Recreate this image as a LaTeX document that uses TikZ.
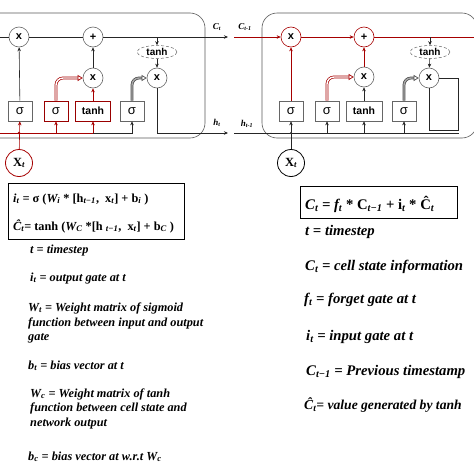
\documentclass[tikz,border=0pt]{standalone}
\usepackage{fontspec}
\setmainfont{Liberation Serif}
\setsansfont{Liberation Sans}
\usetikzlibrary{arrows.meta,shapes.geometric,calc}
\newcommand\up[1]{{\upshape #1}}
\begin{document}
\begin{tikzpicture}[x=1pt,y=-1pt,
  ln/.style={line width=0.6pt, draw=black!85},
  arr/.style={ln, -{Stealth[length=4pt,width=3.5pt]}},
  redc/.style={draw=red!65!black},
  op/.style={circle, draw=black!60, line width=0.6pt, fill=white, minimum size=20pt, inner sep=0pt, font=\sffamily\bfseries\fontsize{11}{11}\selectfont},
  opred/.style={op, draw=red!65!black},
  gate/.style={rectangle, draw=black!60, line width=0.6pt, fill=white, minimum width=24pt, minimum height=20pt, inner sep=0pt, font=\sffamily\fontsize{13}{13}\selectfont},
  gatered/.style={gate, draw=red!60!black},
  thgate/.style={font=\sffamily\bfseries\fontsize{10.5}{10.5}\selectfont},
  thell/.style={ellipse, draw=black!60, densely dashed, line width=0.5pt, fill=white, minimum width=40pt, minimum height=13pt, inner sep=0pt, font=\sffamily\bfseries\fontsize{10}{10}\selectfont},
  xin/.style={circle, draw=black, line width=0.8pt, fill=white, minimum size=27pt, inner sep=0pt, font=\bfseries\fontsize{12.5}{12.5}\selectfont},
  cellbox/.style={draw=black!65, line width=0.6pt, rounded corners=15pt},
  lbl/.style={font=\bfseries\itshape\fontsize{9}{9}\selectfont, inner sep=0pt},
  dblred/.style={line width=0.7pt, draw=red!65!black, double=white, double distance=1.4pt, -{Triangle[open,length=5pt,width=6pt]}, rounded corners=7pt},
  dblgray/.style={line width=0.7pt, draw=black!70, double=black!35, double distance=1.4pt, -{Triangle[open,length=5pt,width=6pt]}, rounded corners=7pt},
  txtL/.style={anchor=base west, inner sep=0pt, font=\bfseries\itshape\fontsize{12.3}{14}\selectfont},
  txtR/.style={anchor=base west, inner sep=0pt, font=\bfseries\itshape\fontsize{14.7}{16}\selectfont},
]
\useasboundingbox (0,0) rectangle (474,474);

% cell boxes
\draw[cellbox] (-20,13) rectangle (205,138);
\draw[cellbox] (262,13) rectangle (477,138);

% ---------- left cell ----------
\node[op] (fx1) at (19,37) {x};
\node[op] (add1) at (93,37) {+};
\node[op] (mx1) at (93,78) {x};
\node[op] (ox1) at (157,78) {x};
\node[thell] (th1) at (157,52) {tanh};
\node[gate] (g1a) at (20,111) {σ};
\node[gatered] (g1b) at (56,111) {σ};
\node[gatered, minimum width=35pt, thgate] (g1c) at (93,111) {tanh};
\node[gate] (g1d) at (132,111) {σ};
\node[xin, draw=red!65!black] (xin1) at (19,163) {X\textsubscript{\itshape t}};
\coordinate (c1in) at (0,37);
\coordinate (c1out) at (228,37);
\coordinate (tap1) at (157,37);
\coordinate (h1in) at (0,133);
\coordinate (h1out) at (228,133);
\coordinate (h1m) at (93,133);
\coordinate (h1b) at (56,133);
\coordinate (j1) at (19,133);
\node[lbl] (lc1) at (217,27) {C\textsubscript{t}};
\node[lbl] (lh1) at (217,123) {h\textsubscript{t}};

\draw[ln] (c1in) -- (fx1);
\draw[ln] (fx1) -- (add1);
\draw[arr] (add1) -- (c1out);
\draw[arr] (g1a) -- (fx1);
\draw[arr] (tap1) -- (th1);
\draw[arr] (th1) -- (ox1);
\draw[arr] (mx1) -- (add1);
\draw[arr, redc] (g1c) -- (mx1);
\draw[dblred] (g1b.north) -- (g1b.north |- mx1) -- (mx1.west);
\draw[dblgray] (g1d.north) -- (g1d.north |- ox1) -- (ox1.west);
\draw[arr] (ox1) |- (h1out);
\draw[ln, redc] (h1in) -- (h1m);
\draw[arr] (h1m) -| (g1d);
\draw[arr, redc] (h1b) -- (g1b);
\draw[arr, redc] (h1m) -- (g1c);
\draw[arr, redc] (xin1) -- (g1a);
\fill[red!65!black] (j1) circle (1.4pt);

% ---------- right cell ----------
\node[opred] (fx2) at (291,37) {x};
\node[opred] (add2) at (364,37) {+};
\node[op] (mx2) at (364,77) {x};
\node[op] (ox2) at (429,78) {x};
\node[thell] (th2) at (430,52) {tanh};
\node[gate] (g2a) at (291,111) {σ};
\node[gate] (g2b) at (327,111) {σ};
\node[gate, minimum width=36pt, thgate] (g2c) at (364,111) {tanh};
\node[gate] (g2d) at (404,111) {σ};
\node[xin] (xin2) at (291,163) {X\textsubscript{\itshape t}};
\coordinate (c2in) at (234,37);
\coordinate (c2out) at (474,37);
\coordinate (tap2) at (430,37);
\coordinate (h2in) at (234,133);
\coordinate (h2out) at (459,133);
\coordinate (j2) at (291,133);
\coordinate (l1) at (458,78);
\coordinate (l2) at (458,130);
\coordinate (l3) at (429,130);
\node[lbl] (lc2) at (245,27) {C\textsubscript{t-1}};
\node[lbl] (lh2) at (247,124) {h\textsubscript{t-1}};

\draw[arr, redc] (c2in) -- (fx2);
\draw[arr, redc] (fx2) -- (add2);
\draw[ln, redc] (add2) -- (c2out);
\draw[arr, redc] (g2a) -- (fx2);
\draw[arr, redc] (mx2) -- (add2);
\draw[arr] (g2c) -- (mx2);
\draw[arr] (tap2) -- (th2);
\draw[arr] (th2) -- (ox2);
\draw[dblred] (g2b.north) -- (g2b.north |- mx2) -- (mx2.west);
\draw[dblgray] (g2d.north) -- (g2d.north |- ox2) -- (ox2.west);
\draw[ln] (ox2.east) -- (l1) -- (l2) -- (l3) -- (ox2.south);
\draw[ln] (h2in) -- (h2out);
\draw[arr] (g2b |- h2in) -- (g2b);
\draw[arr] (g2c |- h2in) -- (g2c);
\draw[arr] (g2d |- h2in) -- (g2d);
\draw[arr] (xin2) -- (g2a);
\fill[black!80] (j2) circle (1.2pt);

% ---------- left formulas and text ----------
\node[draw, line width=0.8pt, minimum width=176pt, minimum height=56pt, anchor=north west, inner sep=0pt] (fbox1) at (8,183) {};
\node[txtL] (f1) at (13,202) {i\textsubscript{t} = \up{σ (}W\textsubscript{i} \up{* [h}\textsubscript{t−1}\up{, \ x}\textsubscript{t}\up{] + b}\textsubscript{i} \up{)}};
\node[txtL] (f2) at (13,230) {Ĉ\textsubscript{t}\up{= tanh (}W\textsubscript{C} \up{*[h }\textsubscript{t−1}\up{, \ x}\textsubscript{t}\up{] + b}\textsubscript{C} \up{)}};

\node[txtL] (t1) at (30,253) {t = timestep};
\node[txtL] (t2) at (30,281) {i\textsubscript{t} = output gate at t};
\node[txtL] (t3) at (28,311) {W\textsubscript{t} = Weight matrix of sigmoid};
\node[txtL] (t3b) at (28,326) {function between input and output};
\node[txtL] (t3c) at (28,340) {gate};
\node[txtL] (t4) at (28,369) {b\textsubscript{t} = bias vector at t};
\node[txtL] (t5) at (30,397) {W\textsubscript{c} = Weight matrix of tanh};
\node[txtL] (t5b) at (30,411) {function between cell state and};
\node[txtL] (t5c) at (30,426) {network output};
\node[txtL] (t6) at (28,460) {b\textsubscript{c} = bias vector at w.r.t W\textsubscript{c}};

% ---------- right formula and text ----------
\node[draw, line width=0.8pt, minimum width=157pt, minimum height=32pt, anchor=north west, inner sep=0pt] (fbox2) at (300,186) {};
\node[txtR] (f3) at (305,209) {C\textsubscript{t} = f\textsubscript{t} \up{* C}\textsubscript{t−1} \up{+ i}\textsubscript{t} \up{* Ĉ}\textsubscript{t}};
\node[txtR] (r1) at (305,235) {t = timestep};
\node[txtR] (r2) at (305,270) {C\textsubscript{t} = cell state information};
\node[txtR] (r3) at (304,303) {f\textsubscript{t} = forget gate at t};
\node[txtR] (r4) at (306,340) {i\textsubscript{t} = input gate at t};
\node[txtR] (r5) at (306,375) {C\textsubscript{t−1} = Previous timestamp};
\node[txtR, font=\bfseries\itshape\fontsize{13.6}{16}\selectfont] (r6) at (304,409) {Ĉ\textsubscript{t}= value generated by tanh};
\end{tikzpicture}
\end{document}
